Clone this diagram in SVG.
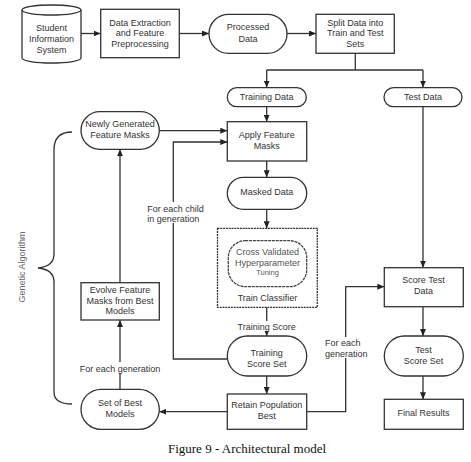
<svg xmlns="http://www.w3.org/2000/svg" width="471" height="462" viewBox="0 0 471 462">
<defs>
<style>
.box{fill:#fff;stroke:#333;stroke-width:1.3}
.dot{fill:#fff;stroke:#333;stroke-width:1.3;stroke-dasharray:2,0.8}
.inner{fill:#fff;stroke:#444;stroke-width:1.3;stroke-dasharray:3,0.8}
.t{font-family:"Liberation Sans",Arial,sans-serif;font-size:9px;fill:#333;text-anchor:middle}
.tl{font-family:"Liberation Sans",Arial,sans-serif;font-size:9px;fill:#333}
.g{fill:#555}
.ln{fill:none;stroke:#333;stroke-width:1.3}
.arr{fill:none;stroke:#333;stroke-width:1.3;marker-end:url(#ah)}
.lbl{fill:#fff;stroke:none}
</style>
<marker id="ah" markerUnits="userSpaceOnUse" markerWidth="7" markerHeight="6" refX="7" refY="3" orient="auto">
<path d="M0,0 L7,3 L0,6 z" fill="#222"/>
</marker>
</defs>
<rect width="471" height="462" fill="#fff"/>

<g id="connectors">
<line class="arr" x1="81" y1="33.5" x2="100.5" y2="33.5"/>
<line class="arr" x1="179.5" y1="33.5" x2="209" y2="33.5"/>
<line class="arr" x1="287" y1="33.5" x2="316" y2="33.5"/>
<polyline class="ln" points="355.3,53.5 355.3,70"/>
<polyline class="arr" points="266.7,70 266.7,87.5"/>
<polyline class="arr" points="423,70 423,87.5"/>
<line class="ln" x1="266.7" y1="70" x2="423" y2="70"/>
<line class="arr" x1="266.7" y1="107" x2="266.7" y2="121.7"/>
<line class="arr" x1="266.7" y1="161" x2="266.7" y2="177.3"/>
<line class="arr" x1="266.7" y1="209.3" x2="266.7" y2="228.3"/>
<line class="arr" x1="266.7" y1="307.3" x2="266.7" y2="336"/>
<line class="arr" x1="266.7" y1="376" x2="266.7" y2="394"/>
<line class="arr" x1="423" y1="107" x2="423" y2="267.7"/>
<line class="arr" x1="423" y1="306.7" x2="423" y2="336"/>
<line class="arr" x1="423" y1="376" x2="423" y2="399.3"/>
<polyline class="arr" points="306.7,411.7 345.7,411.7 345.7,286.7 384.3,286.7"/>
<line class="arr" x1="159.3" y1="130.7" x2="227.3" y2="130.7"/>
<polyline class="arr" points="227.3,359 173.3,359 173.3,142 227.3,142"/>
<line class="arr" x1="120" y1="282.7" x2="120" y2="149.3"/>
<line class="arr" x1="120" y1="389.3" x2="120" y2="320"/>
<line class="arr" x1="227.3" y1="411.7" x2="159.3" y2="411.7"/>
<path class="ln" d="M72,132 C60,132 54,138 54,150 L54,254 C54,262 48,267 38,268 C48,269 54,274 54,282 L54,392 C54,400 60,404 72,404" stroke-width="1.1"/>
</g>

<g id="n-sis">
<path class="box" d="M22,10 A29.5,5 0 0 1 81,10 L81,58 A29.5,5 0 0 1 22,58 Z"/>
<path class="ln" d="M22,10 A29.5,5 0 0 0 81,10"/>
<text class="t" x="51.5" y="31">Student</text>
<text class="t" x="51.5" y="41.9">Information</text>
<text class="t" x="51.5" y="52.5">System</text>
</g>

<g id="n-extract">
<rect class="box" x="100.7" y="9.3" width="78.6" height="48.4"/>
<text class="t" x="140" y="25.5">Data Extraction</text>
<text class="t" x="140" y="36.2">and Feature</text>
<text class="t" x="140" y="46.9">Preprocessing</text>
</g>

<g id="n-processed">
<rect class="box" x="209" y="14.3" width="78" height="39" rx="19.5"/>
<text class="t" x="248" y="29.9">Processed</text>
<text class="t" x="248" y="41.5">Data</text>
</g>

<g id="n-split">
<rect class="box" x="316" y="14.3" width="78.3" height="39"/>
<text class="t" x="355.3" y="25.5">Split Data into</text>
<text class="t" x="355.3" y="36.2">Train and Test</text>
<text class="t" x="355.3" y="46.9">Sets</text>
</g>

<g id="n-training">
<rect class="box" x="227.3" y="87.7" width="79" height="19" rx="9.5"/>
<text class="t" x="266.7" y="99.9">Training Data</text>
</g>

<g id="n-test">
<rect class="box" x="384" y="87.7" width="78" height="19" rx="9.5"/>
<text class="t" x="423" y="99.9">Test Data</text>
</g>

<g id="n-apply">
<rect class="box" x="227.3" y="121.7" width="79.4" height="39.3"/>
<text class="t" x="266.7" y="138.2">Apply Feature</text>
<text class="t" x="266.7" y="149.2">Masks</text>
</g>

<g id="n-masked">
<rect class="box" x="227.3" y="177.3" width="79.4" height="32" rx="16"/>
<text class="t" x="266.7" y="195.2">Masked Data</text>
</g>

<g id="n-train">
<rect class="dot" x="217.5" y="228.3" width="99.8" height="79"/>
<rect class="inner" x="228.3" y="240.7" width="78.4" height="46" rx="17"/>
<text class="t g" x="267.5" y="255.2">Cross Validated</text>
<text class="t g" x="267.5" y="265.9">Hyperparameter</text>
<text class="t g" x="267.5" y="274.8" style="font-size:7.5px">Tuning</text>
<text class="t" x="267.5" y="301.2">Train Classifier</text>
</g>

<g id="n-tscore">
<rect class="lbl" x="236" y="321" width="62" height="10"/>
<text class="t" x="266.7" y="329.9">Training Score</text>
<rect class="box" x="227.3" y="336" width="79.4" height="40" rx="20"/>
<text class="t" x="266.7" y="355.9">Training</text>
<text class="t" x="266.7" y="367.2">Score Set</text>
</g>

<g id="n-retain">
<rect class="box" x="227.3" y="394" width="79.4" height="35.3"/>
<text class="t" x="266.7" y="408.2">Retain Population</text>
<text class="t" x="266.7" y="419.2">Best</text>
</g>

<g id="n-scoretest">
<rect class="box" x="384.3" y="267.7" width="79" height="39"/>
<text class="t" x="423.5" y="283.2">Score Test</text>
<text class="t" x="423.5" y="294.2">Data</text>
</g>

<g id="n-testscore">
<rect class="box" x="384.3" y="336" width="79" height="40" rx="20"/>
<text class="t" x="423.5" y="352.5">Test</text>
<text class="t" x="423.5" y="363.9">Score Set</text>
</g>

<g id="n-final">
<rect class="box" x="384.3" y="399.3" width="79" height="30"/>
<text class="t" x="423.5" y="415.9">Final Results</text>
</g>

<g id="n-newly">
<rect class="box" x="81" y="111.7" width="78.3" height="37.6" rx="18.8"/>
<text class="t" x="120" y="127.2">Newly Generated</text>
<text class="t" x="120" y="137.9">Feature Masks</text>
</g>

<g id="n-evolve">
<rect class="box" x="81" y="282.7" width="78.3" height="37.3"/>
<text class="t" x="120" y="293.2">Evolve Feature</text>
<text class="t" x="120" y="303.9">Masks from Best</text>
<text class="t" x="120" y="314.2">Models</text>
</g>

<g id="n-best">
<rect class="box" x="81" y="389.3" width="78.3" height="40" rx="20"/>
<text class="t" x="120" y="405.9">Set of Best</text>
<text class="t" x="120" y="416.5">Models</text>
</g>

<g id="labels">
<rect class="lbl" x="146" y="202" width="56" height="21"/>
<text class="tl" x="147.3" y="211.5">For each child</text>
<text class="tl" x="147.3" y="221.5">in generation</text>
<rect class="lbl" x="82" y="362" width="77" height="11"/>
<text class="t" x="120" y="371.5">For each generation</text>
<rect class="lbl" x="324" y="337" width="44" height="21"/>
<text class="tl" x="325" y="346.2">For each</text>
<text class="tl" x="325" y="357.2">generation</text>
<text class="t" style="fill:#666" transform="translate(25,267) rotate(-90)">Genetic Algorithm</text>
<text x="247" y="453" style="font-family:'Liberation Serif','Times New Roman',serif;font-size:13px;fill:#111;text-anchor:middle">Figure 9 - Architectural model</text>
</g>
</svg>
